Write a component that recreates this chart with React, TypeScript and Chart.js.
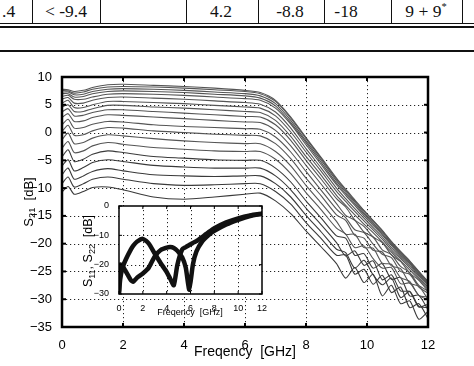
import React, { useEffect, useRef } from "react";
import { Chart, registerables } from "chart.js";
Chart.register(...registerables);

// ---------- main plot data: S21 [dB] vs frequency [GHz] ----------
const freqMain = [0, 0.2, 0.4, 0.7, 1, 1.5, 2, 3, 4, 5, 6, 6.5, 7, 7.5, 8, 8.5, 9, 9.3, 9.6, 9.9, 10.2, 10.5, 10.8, 11.1, 11.4, 11.7, 12];

const s21_00 = [7.8, 7.7, 7.4, 7.6, 8.1, 8.6, 8.7, 8.5, 8.3, 8.0, 7.6, 7.2, 5.8, 2.8, -0.9, -4.5, -8.2, -10.2, -12.1, -14.0, -15.8, -17.6, -19.6, -21.4, -23.1, -25.0, -26.8];
const s21_01 = [7.6, 7.5, 7.1, 7.3, 7.8, 8.2, 8.3, 8.2, 8.0, 7.7, 7.4, 7.0, 5.6, 2.6, -1.1, -4.7, -8.4, -10.4, -12.3, -14.1, -15.9, -17.7, -19.7, -21.5, -23.2, -25.1, -26.9];
const s21_02 = [7.3, 7.3, 6.8, 6.9, 7.4, 7.8, 7.9, 7.8, 7.6, 7.3, 7.0, 6.6, 5.2, 2.2, -1.5, -5.0, -8.7, -10.7, -12.5, -14.4, -16.2, -17.9, -19.9, -21.7, -23.4, -25.2, -27.0];
const s21_03 = [7.0, 7.0, 6.4, 6.5, 7.0, 7.4, 7.5, 7.4, 7.2, 6.9, 6.6, 6.2, 4.8, 1.8, -1.8, -5.4, -9.1, -11.0, -12.8, -14.7, -16.4, -18.2, -20.1, -21.9, -23.5, -25.4, -27.2];
const s21_04 = [6.5, 6.7, 6.0, 6.0, 6.4, 6.9, 7.0, 6.9, 6.7, 6.4, 6.1, 5.8, 4.4, 1.5, -2.2, -5.8, -9.4, -11.3, -13.1, -15.0, -16.7, -18.4, -20.3, -22.1, -23.7, -25.6, -27.3];
const s21_05 = [6.0, 6.3, 5.3, 5.3, 5.8, 6.3, 6.4, 6.2, 6.0, 5.7, 5.4, 5.1, 3.7, 0.8, -2.9, -6.4, -10.0, -11.9, -13.7, -15.4, -17.1, -18.8, -20.7, -22.4, -24.0, -25.8, -27.5];
const s21_06 = [5.3, 5.8, 4.5, 4.5, 5.0, 5.6, 5.6, 5.4, 5.2, 4.9, 4.6, 4.4, 3.0, 0.1, -3.5, -7.0, -10.6, -12.4, -14.2, -15.9, -17.5, -19.2, -21.1, -22.7, -24.3, -26.1, -27.8];
const s21_07 = [4.6, 5.0, 3.8, 3.8, 4.3, 4.9, 4.9, 4.6, 4.4, 4.1, 3.8, 3.6, 2.2, -0.7, -4.3, -7.7, -11.3, -13.1, -14.8, -16.5, -18.0, -19.7, -21.5, -23.1, -24.7, -26.4, -28.1];
const s21_08 = [3.7, 4.3, 3.0, 3.1, 3.6, 4.1, 4.1, 3.8, 3.5, 3.2, 2.9, 2.8, 1.4, -1.4, -5.0, -8.4, -11.9, -13.4, -15.7, -16.9, -18.8, -19.8, -22.0, -23.2, -25.3, -26.6, -28.5];
const s21_09 = [2.7, 3.4, 2.0, 2.1, 2.7, 3.2, 3.1, 2.8, 2.5, 2.2, 1.9, 1.8, 0.4, -2.4, -5.9, -9.3, -12.8, -14.9, -15.8, -17.9, -18.8, -21.1, -22.0, -24.1, -25.2, -27.5, -28.5];
const s21_10 = [1.4, 2.4, 0.8, 0.9, 1.5, 2.0, 1.9, 1.4, 1.1, 0.9, 0.7, 0.6, -0.8, -3.5, -7.0, -10.4, -13.8, -15.3, -17.5, -18.0, -20.1, -21.9, -22.5, -25.0, -25.5, -27.8, -28.9];
const s21_11 = [0.2, 1.3, -0.5, -0.4, 0.3, 0.9, 0.8, 0.3, 0.0, -0.3, -0.5, -0.6, -2.0, -4.7, -8.2, -11.4, -14.8, -15.8, -18.5, -19.0, -21.2, -21.5, -24.0, -24.5, -27.1, -27.7, -30.0];
const s21_12 = [-1.3, -0.1, -2.0, -1.8, -1.0, -0.4, -0.6, -1.1, -1.5, -1.8, -2.0, -2.0, -3.4, -6.0, -9.5, -12.7, -16.0, -18.3, -18.3, -20.7, -20.8, -23.5, -23.7, -26.1, -26.8, -29.3, -29.6];
const s21_13 = [-2.8, -1.6, -3.6, -3.3, -2.4, -1.8, -2.1, -2.7, -3.0, -3.3, -3.4, -3.4, -4.8, -7.4, -10.8, -13.9, -17.2, -18.3, -20.7, -20.4, -22.7, -24.4, -24.3, -27.2, -27.1, -29.3, -30.1];
const s21_14 = [-4.4, -3.1, -5.2, -4.8, -3.9, -3.3, -3.6, -4.3, -4.6, -4.9, -5.0, -5.0, -6.4, -8.9, -12.3, -15.4, -18.6, -19.0, -22.1, -21.8, -24.4, -23.6, -26.4, -26.1, -29.4, -29.3, -31.9];
const s21_15 = [-6.0, -4.9, -6.9, -6.3, -5.4, -4.9, -5.2, -5.9, -6.2, -6.4, -6.4, -6.4, -7.8, -10.3, -13.6, -16.6, -19.8, -22.2, -21.3, -23.9, -23.1, -26.5, -25.6, -28.5, -28.6, -31.4, -30.9];
const s21_16 = [-7.6, -6.4, -8.4, -7.8, -7.0, -6.5, -6.9, -7.6, -7.8, -7.9, -7.8, -7.8, -9.2, -11.6, -14.9, -17.9, -21.0, -21.6, -24.4, -23.0, -25.6, -27.4, -26.2, -29.7, -28.6, -31.3, -31.5];
const s21_17 = [-9.2, -8.0, -9.8, -9.2, -8.4, -8.0, -8.4, -9.2, -9.5, -9.4, -9.2, -9.2, -10.6, -12.9, -16.2, -19.1, -22.1, -22.0, -25.5, -24.6, -27.3, -25.7, -28.8, -27.8, -31.5, -30.8, -33.5];
const s21_18 = [-10.7, -9.7, -11.1, -10.6, -9.9, -9.8, -10.3, -11.6, -12.0, -11.6, -11.1, -10.9, -12.3, -14.6, -17.7, -20.6, -23.6, -26.2, -24.3, -27.0, -25.5, -29.4, -27.5, -30.8, -30.3, -33.6, -32.2];

const S21_SERIES = [s21_00, s21_01, s21_02, s21_03, s21_04, s21_05, s21_06, s21_07, s21_08, s21_09, s21_10, s21_11, s21_12, s21_13, s21_14, s21_15, s21_16, s21_17, s21_18];

// ---------- inset data: S11 / S22 [dB] ----------
const freqInset = [0, 0.1, 0.3, 0.6, 1.0, 1.2, 1.5, 2.0, 2.5, 3.0, 3.5, 4.0, 4.3, 4.6, 4.9, 5.3, 5.6, 5.9, 6.2, 6.5, 7, 7.5, 8, 9, 10, 11, 12];
const s11Inset = [-30, -25, -21, -18, -14.8, -13.5, -12.2, -11.2, -12.8, -16.2, -19.5, -22.5, -24.8, -27.0, -20.0, -14.8, -14.0, -13.3, -12.6, -12.0, -10.5, -9.0, -7.6, -5.6, -4.2, -3.2, -2.6];
const s22Inset = [-29, -20, -20.5, -22.5, -25.3, -25.8, -24.5, -23.0, -21.0, -17.2, -15.0, -14.2, -14.0, -14.3, -15.3, -17.5, -21.0, -28.5, -20.0, -15.5, -12.0, -10.0, -8.5, -6.3, -4.7, -3.4, -2.6];

// ---------- table fragment above the figure ----------
const tableCells = [".4", "< -9.4", "", "4.2", "-8.8", "-18", "9 + 9"];

const SANS = "'Liberation Sans', Arial, Helvetica, sans-serif";
const SERIF = "'Liberation Serif', 'Times New Roman', serif";

const minusFmt = (v: any) => {
  const n = Number(v);
  return n < 0 ? "\u2212" + Math.abs(n) : String(n);
};

function axesPlugin(id: string, o: { tickLen: number; frame: number; tickW: number; white: boolean }) {
  return {
    id,
    beforeDatasetsDraw(chart: any) {
      const { ctx, chartArea: a, scales } = chart;
      const xs = scales.x, ys = scales.y;
      ctx.save();
      if (o.white) {
        ctx.fillStyle = "#fff";
        ctx.fillRect(a.left, a.top, a.right - a.left, a.bottom - a.top);
      }
      ctx.setLineDash([1.2, 2.8]);
      ctx.strokeStyle = "#222";
      ctx.lineWidth = 1;
      xs.ticks.forEach((t: any) => {
        const px = Math.round(xs.getPixelForValue(t.value)) + 0.5;
        if (px <= a.left + 2 || px >= a.right - 2) return;
        ctx.beginPath(); ctx.moveTo(px, a.top); ctx.lineTo(px, a.bottom); ctx.stroke();
      });
      ys.ticks.forEach((t: any) => {
        const py = Math.round(ys.getPixelForValue(t.value)) + 0.5;
        if (py <= a.top + 2 || py >= a.bottom - 2) return;
        ctx.beginPath(); ctx.moveTo(a.left, py); ctx.lineTo(a.right, py); ctx.stroke();
      });
      ctx.restore();
    },
    afterDatasetsDraw(chart: any) {
      const { ctx, chartArea: a, scales } = chart;
      const xs = scales.x, ys = scales.y;
      ctx.save();
      ctx.setLineDash([]);
      ctx.strokeStyle = "#000";
      ctx.lineWidth = o.tickW;
      xs.ticks.forEach((t: any) => {
        const px = xs.getPixelForValue(t.value);
        ctx.beginPath(); ctx.moveTo(px, a.bottom); ctx.lineTo(px, a.bottom - o.tickLen); ctx.stroke();
        ctx.beginPath(); ctx.moveTo(px, a.top); ctx.lineTo(px, a.top + o.tickLen); ctx.stroke();
      });
      ys.ticks.forEach((t: any) => {
        const py = ys.getPixelForValue(t.value);
        ctx.beginPath(); ctx.moveTo(a.left, py); ctx.lineTo(a.left + o.tickLen, py); ctx.stroke();
        ctx.beginPath(); ctx.moveTo(a.right, py); ctx.lineTo(a.right - o.tickLen, py); ctx.stroke();
      });
      ctx.lineWidth = o.frame;
      ctx.strokeRect(a.left, a.top, a.right - a.left, a.bottom - a.top);
      ctx.restore();
    },
  };
}

export default function App() {
  const mainRef = useRef<HTMLCanvasElement | null>(null);
  const insetRef = useRef<HTMLCanvasElement | null>(null);

  useEffect(() => {
    const mainChart = new Chart(mainRef.current as HTMLCanvasElement, {
      type: "line",
      data: {
        datasets: S21_SERIES.map((s, i) => ({
          label: "S21 #" + (i + 1),
          data: freqMain.map((f, j) => ({ x: f, y: s[j] })),
          borderColor: i > 13 ? "#3a3a3a" : "#555",
          borderWidth: 1.1,
          pointRadius: 0,
          tension: 0.25,
          fill: false,
        })),
      },
      options: {
        animation: false,
        responsive: false,
        devicePixelRatio: 1,
        layout: { padding: { left: 0, top: 17, right: 46, bottom: 0 } },
        plugins: { legend: { display: false }, tooltip: { enabled: false } },
        scales: {
          x: {
            type: "linear",
            min: 0,
            max: 12,
            ticks: { stepSize: 2, color: "#000", padding: 3, font: { family: SANS, size: 13 } },
            grid: { display: false },
            border: { display: false },
            afterFit: (s: any) => { s.height = 39; },
          },
          y: {
            type: "linear",
            min: -35,
            max: 10,
            ticks: { stepSize: 5, color: "#000", padding: 2, font: { family: SANS, size: 13 }, callback: minusFmt },
            grid: { display: false },
            border: { display: false },
            afterFit: (s: any) => { s.width = 62; },
          },
        },
      },
      plugins: [axesPlugin("mainAxes", { tickLen: 4, frame: 2.5, tickW: 2, white: false })],
    } as any);

    const insetChart = new Chart(insetRef.current as HTMLCanvasElement, {
      type: "line",
      data: {
        datasets: [
          {
            label: "S11",
            data: freqInset.map((f, j) => ({ x: f, y: s11Inset[j] })),
            borderColor: "#111",
            borderWidth: 4.5,
            pointRadius: 0,
            tension: 0.2,
            borderJoinStyle: "round",
            borderCapStyle: "round",
          },
          {
            label: "S22",
            data: freqInset.map((f, j) => ({ x: f, y: s22Inset[j] })),
            borderColor: "#111",
            borderWidth: 4.5,
            pointRadius: 0,
            tension: 0.2,
            borderJoinStyle: "round",
            borderCapStyle: "round",
          },
        ],
      },
      options: {
        animation: false,
        responsive: false,
        devicePixelRatio: 1,
        layout: { padding: { left: 0, top: 10, right: 8, bottom: 0 } },
        plugins: { legend: { display: false }, tooltip: { enabled: false } },
        scales: {
          x: {
            type: "linear",
            min: 0,
            max: 12,
            ticks: { stepSize: 2, color: "#000", padding: 1, font: { family: SANS, size: 9 } },
            grid: { display: false },
            border: { display: false },
            afterFit: (s: any) => { s.height = 32; },
          },
          y: {
            type: "linear",
            min: -30,
            max: 0,
            ticks: { stepSize: 10, color: "#000", padding: 2, font: { family: SANS, size: 9 }, callback: minusFmt },
            grid: { display: false },
            border: { display: false },
            afterFit: (s: any) => { s.width = 29; },
          },
        },
      },
      plugins: [axesPlugin("insetAxes", { tickLen: 3, frame: 1.5, tickW: 1, white: true })],
    } as any);

    return () => {
      mainChart.destroy();
      insetChart.destroy();
    };
  }, []);

  const vLines = [32, 100, 186, 258, 324, 391, 462];
  const cellPos = [
    { left: 2, center: false },
    { left: 66, center: true },
    { left: 143, center: true },
    { left: 221, center: true },
    { left: 290, center: true },
    { left: 346, center: true },
    { left: 426, center: true },
  ];

  const sub = { fontSize: "0.72em", verticalAlign: "-0.3em" } as React.CSSProperties;

  return (
    <div style={{ position: "fixed", left: 0, top: 0, width: 474, height: 366, background: "#fff", overflow: "hidden", fontFamily: SANS }}>
      {/* table fragment */}
      {vLines.map((x) => (
        <div key={"v" + x} style={{ position: "absolute", left: x - 0.5, top: 0, width: 1.2, height: 23, background: "#111" }} />
      ))}
      <div style={{ position: "absolute", left: 0, top: 22.6, width: 474, height: 1.5, background: "#111" }} />
      <div style={{ position: "absolute", left: 0, top: 26, width: 474, height: 1.5, background: "#111" }} />
      <div style={{ position: "absolute", left: 0, top: 49.8, width: 474, height: 2, background: "#111" }} />
      {tableCells.map((t, i) =>
        t ? (
          <div
            key={"c" + i}
            style={{
              position: "absolute",
              left: cellPos[i].left,
              top: 2,
              transform: cellPos[i].center ? "translateX(-50%)" : undefined,
              fontFamily: SERIF,
              fontSize: 17.5,
              lineHeight: "19px",
              whiteSpace: "pre",
              color: "#111",
            }}
          >
            {t}
            {i === 6 ? <span style={{ fontSize: "0.6em", lineHeight: 0, position: "relative", top: "-0.7em" }}>*</span> : null}
          </div>
        ) : null
      )}

      <canvas ref={mainRef} width={474} height={306} style={{ position: "absolute", left: 0, top: 60, width: 474, height: 306 }} />
      <canvas ref={insetRef} width={180} height={130} style={{ position: "absolute", left: 90, top: 196, width: 180, height: 130 }} />

      {/* main axis titles */}
      <div style={{ position: "absolute", left: 29, top: 202, transform: "translate(-50%,-50%) rotate(-90deg)", fontSize: 13, whiteSpace: "pre", color: "#000" }}>
        S<span style={sub}>21</span>{"  [dB]"}
      </div>
      <div style={{ position: "absolute", left: 245, top: 351, transform: "translate(-50%,-50%)", fontSize: 14, whiteSpace: "pre", color: "#000" }}>
        {"Freqency  [GHz]"}
      </div>

      {/* inset axis titles */}
      <div style={{ position: "absolute", left: 89, top: 251, transform: "translate(-50%,-50%) rotate(-90deg)", fontSize: 12.5, whiteSpace: "pre", color: "#000" }}>
        S<span style={sub}>11</span>, S<span style={sub}>22</span>{"  [dB]"}
      </div>
      <div style={{ position: "absolute", left: 190, top: 312, transform: "translate(-50%,-50%)", fontSize: 9, whiteSpace: "pre", color: "#000" }}>
        {"Freqency  [GHz]"}
      </div>
    </div>
  );
}
